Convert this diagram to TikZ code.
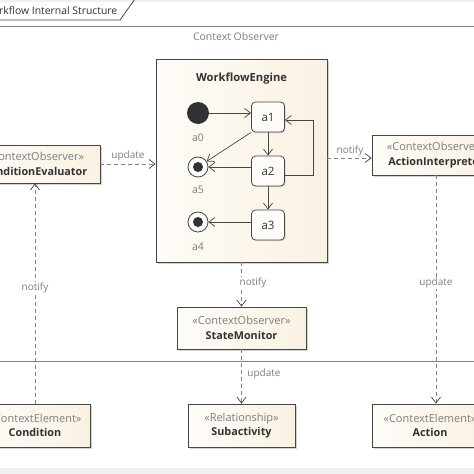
\documentclass[tikz,border=0pt]{standalone}
\usepackage{fontspec}
\setmainfont{Open Sans}
\usetikzlibrary{arrows.meta,shadows}
\definecolor{boxfill}{RGB}{250,241,226}
\definecolor{boxfillL}{RGB}{254,252,248}
\definecolor{linegray}{RGB}{70,70,70}
\definecolor{txtgray}{RGB}{125,125,125}
\definecolor{namegray}{RGB}{50,50,50}
\definecolor{framegray}{RGB}{130,130,130}
\newcommand{\umltext}[2]{{\fontsize{11}{12}\selectfont\color{txtgray}#1}\\[2.5pt]{\fontsize{10.8}{12}\selectfont\bfseries\color{namegray}#2}}
\tikzset{
  umlbox/.style={draw=linegray, line width=0.8pt, left color=boxfillL, right color=boxfill,
    drop shadow={shadow xshift=1.5pt, shadow yshift=-1.5pt, opacity=0.35, fill=gray},
    align=center, inner sep=0pt},
  statebox/.style={draw=linegray, line width=0.8pt, rounded corners=4pt, fill=boxfillL,
    minimum width=33pt, minimum height=30pt, inner sep=0pt,
    drop shadow={shadow xshift=1pt, shadow yshift=-1pt, opacity=0.3, fill=gray},
    font=\fontsize{11.5}{12}\selectfont, text=namegray},
  initstate/.style={circle, fill=namegray, minimum size=22pt, inner sep=0pt},
  finalstate/.style={circle, draw=linegray, line width=0.8pt, fill=white, minimum size=20pt, inner sep=0pt,
    path picture={\fill[namegray] (path picture bounding box.center) circle (5pt);}},
  slbl/.style={font=\fontsize{10.5}{12}\selectfont, text=txtgray, inner sep=1pt},
  clbl/.style={font=\fontsize{10}{11}\selectfont, text=txtgray, inner sep=1pt},
  trans/.style={draw=linegray, line width=0.7pt, -{Straight Barb[length=6pt,width=9pt,line width=0.7pt]}},
  dep/.style={draw=framegray, line width=0.8pt, dash pattern=on 4pt off 3pt,
    -{Straight Barb[length=6pt,width=9pt,line width=0.7pt,color=linegray]}}
}
\begin{document}
\begin{tikzpicture}[x=1pt,y=-1pt]
\useasboundingbox (0,0) rectangle (474,474);
\clip (0,0) rectangle (474,474);
\fill[white] (0,0) rectangle (474,474);
\fill[gray!12] (0,0) rectangle (474,1.5);
\fill[gray!12] (0,468) rectangle (474,474);
% frame
\draw[framegray, line width=1pt] (0,26) -- (474,26);
\draw[linegray, line width=0.8pt] (-1,20) -- (120,20) -- (135,-1);
\node[anchor=east, font=\fontsize{10.4}{12}\selectfont, text=namegray, inner sep=0pt] (tabtxt) at (117.5,11) {Workflow Internal Structure};
\node[font=\fontsize{10.5}{12}\selectfont, text=txtgray] (ctxobs) at (236,37) {Context Observer};
% partition line
\draw[framegray, line width=0.9pt] (0,361) -- (474,361);
% workflow engine
\node[umlbox, minimum width=171pt, minimum height=203pt] (we) at (241.5,160.5) {};
\node[font=\fontsize{11.2}{12}\selectfont\bfseries, text=namegray] (wetitle) at (241.5,79) {WorkflowEngine};
\node[initstate] (a0) at (198,113) {};
\node[finalstate] (a5) at (198,167) {};
\node[finalstate] (a4) at (198,222) {};
\node[statebox] (a1) at (268,117) {a1};
\node[statebox] (a2) at (268,171) {a2};
\node[statebox] (a3) at (268,225) {a3};
\node[slbl] (la0) at (198,138) {a0};
\node[slbl] (la5) at (198,190) {a5};
\node[slbl] (la4) at (198,247) {a4};
\draw[trans] (a0) -- (a0 -| a1.west);
\draw[trans] (a1.south west) -- (a5);
\draw[trans] (a1) -- (a2);
\draw[trans] (a2.west |- a5) -- (a5);
\draw[trans] (a2) -- (a3);
\draw[trans] (a3.west |- a4) -- (a4);
\draw[trans] ([yshift=-4pt]a2.east) -| (313,120) -- ([yshift=-3pt]a1.east);
% observers and elements
\node[umlbox, minimum width=130pt, minimum height=38pt] (ce) at (35,164) {\umltext{«ContextObserver»}{ConditionEvaluator}};
\node[umlbox, minimum width=128pt, minimum height=40pt] (ai) at (436,155) {\umltext{«ContextObserver»}{ActionInterpreter}};
\node[umlbox, minimum width=129pt, minimum height=42pt] (sm) at (241.5,328) {\umltext{«ContextObserver»}{StateMonitor}};
\node[umlbox, minimum width=110pt, minimum height=43pt] (cond) at (35,425.5) {\umltext{«ContextElement»}{Condition}};
\node[umlbox, minimum width=107pt, minimum height=43pt] (sub) at (241.5,425.5) {\umltext{«Relationship»}{Subactivity}};
\node[umlbox, minimum width=116pt, minimum height=43pt] (act) at (430,425.5) {\umltext{«ContextElement»}{Action}};
% dependencies
\draw[dep] (ce.east) -- (ce.east -| we.west);
\node[clbl] (lupd1) at (128,156) {update};
\draw[dep] ([yshift=-3pt]ai.west -| we.east) -- ([yshift=-3pt]ai.west);
\node[clbl] (lnot1) at (350,151) {notify};
\draw[dep] (we.south) -- (sm.north);
\node[clbl, fill=white] (lnot2) at (253,283) {notify};
\draw[dep] (sm.south) -- (sub.north);
\node[clbl] (lupd2) at (264,374) {update};
\draw[dep] (cond.north) -- (ce.south);
\node[clbl, fill=white] (lnot3) at (35,288) {notify};
\draw[dep] (ai.south) -- (ai.south |- act.north);
\node[clbl, fill=white] (lupd3) at (436,283) {update};
\end{tikzpicture}
\end{document}
